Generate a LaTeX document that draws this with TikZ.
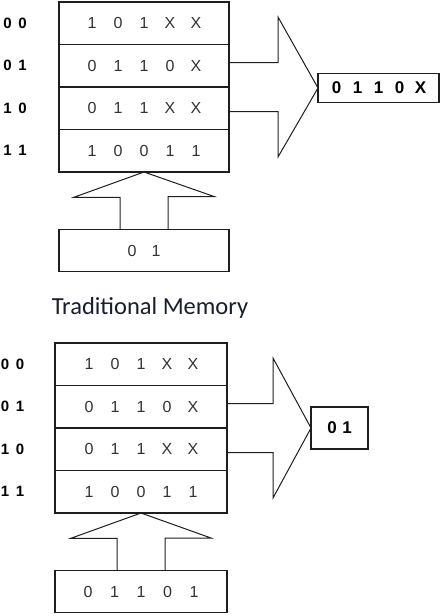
\documentclass[tikz,border=0pt]{standalone}
\usepackage{fontspec}
\setmainfont{Liberation Sans}
\newfontfamily\calibri{Carlito}
\usetikzlibrary{calc}
\definecolor{linegray}{RGB}{30, 30, 30}
\definecolor{textgray}{RGB}{50, 50, 50}
\definecolor{titleink}{RGB}{25, 30, 45}
\newcommand{\bitrow}[2]{\foreach \b in {#2}{\makebox[#1]{\b}}}

\begin{document}
\begin{tikzpicture}[x=1pt, y=-1pt,
  cell/.style={draw=linegray, line width=1.2pt, minimum height=42.5pt, inner sep=0pt, outer sep=0pt, font=\fontsize{16}{18}\selectfont, text=textgray},
  addr/.style={font=\fontsize{15}{17}\selectfont\bfseries, inner sep=0pt},
  result/.style={draw=linegray, line width=1.4pt, inner sep=0pt, outer sep=0pt, font=\fontsize{17}{19}\selectfont\bfseries},
  bigarrow/.style={draw=linegray, line width=1pt, line join=miter}]
  \useasboundingbox (0,0) rectangle (440,616);

  % first memory
  \node[cell, minimum width=170pt] (t0) at (144, 23.25) {\bitrow{26pt}{1,0,1,X,X}};
  \node[cell, minimum width=170pt] (t1) at (144, 65.75) {\bitrow{26pt}{0,1,1,0,X}};
  \node[cell, minimum width=170pt] (t2) at (144, 108.25) {\bitrow{26pt}{0,1,1,X,X}};
  \node[cell, minimum width=170pt] (t3) at (144, 150.75) {\bitrow{26pt}{1,0,0,1,1}};
  \node[addr] (ta0) at (15, 23.25) {\bitrow{15pt}{0,0}};
  \node[addr] (ta1) at (15, 65.75) {\bitrow{15pt}{0,1}};
  \node[addr] (ta2) at (15, 108.25) {\bitrow{15pt}{1,0}};
  \node[addr] (ta3) at (15, 150.75) {\bitrow{15pt}{1,1}};
  % key in, word out
  \node[cell, minimum width=170pt] (tin) at (144, 250.5) {\bitrow{24pt}{0,1}};
  \node[result, minimum width=121pt, minimum height=29pt] (tout) at (378.5, 88) {\bitrow{21pt}{0,1,1,0,X}};
  \draw[bigarrow] ($(tin.north)+(-24,0)$) -- ++(0,-32) -- ++(-46,0) -- (t3.south)
    -- ($(t3.south)+(70,24.5)$) -- ++(-46,0) -- ($(tin.north)+(24,0)$);
  \draw[bigarrow] ($(t1.south east)+(0,-24.5)$) -- ++(49,0) -- ++(0,-45.5) -- (tout.west)
    -- ($(t1.south east)+(49,70)$) -- ++(0,-45.5) -- ($(t1.south east)+(0,24.5)$);

  \node[font=\calibri\fontsize{24.5}{28}\selectfont, text=titleink] (title) at (150, 308) {Traditional Memory};

  % second memory
  \node[cell, minimum width=172pt] (b0) at (141, 364.25) {\bitrow{26pt}{1,0,1,X,X}};
  \node[cell, minimum width=172pt] (b1) at (141, 406.75) {\bitrow{26pt}{0,1,1,0,X}};
  \node[cell, minimum width=172pt] (b2) at (141, 449.25) {\bitrow{26pt}{0,1,1,X,X}};
  \node[cell, minimum width=172pt] (b3) at (141, 491.75) {\bitrow{26pt}{1,0,0,1,1}};
  \node[addr] (ba0) at (12.5, 364.25) {\bitrow{15pt}{0,0}};
  \node[addr] (ba1) at (12.5, 406.75) {\bitrow{15pt}{0,1}};
  \node[addr] (ba2) at (12.5, 449.25) {\bitrow{15pt}{1,0}};
  \node[addr] (ba3) at (12.5, 491.75) {\bitrow{15pt}{1,1}};
  % word in, key out
  \node[cell, minimum width=172pt] (bin) at (141, 591.5) {\bitrow{26.5pt}{0,1,1,0,1}};
  \node[result, minimum width=57pt, minimum height=42pt] (bout) at (339.5, 428) {\bitrow{15pt}{0,1}};
  \draw[bigarrow] ($(bin.north)+(-24,0)$) -- ++(0,-32) -- ++(-46,0) -- (b3.south)
    -- ($(b3.south)+(70,25)$) -- ++(-46,0) -- ($(bin.north)+(24,0)$);
  \draw[bigarrow] ($(b1.south east)+(0,-24.5)$) -- ++(46,0) -- ++(0,-45.5) -- (bout.west)
    -- ($(b1.south east)+(46,70)$) -- ++(0,-45.5) -- ($(b1.south east)+(0,24.5)$);
\end{tikzpicture}
\end{document}
